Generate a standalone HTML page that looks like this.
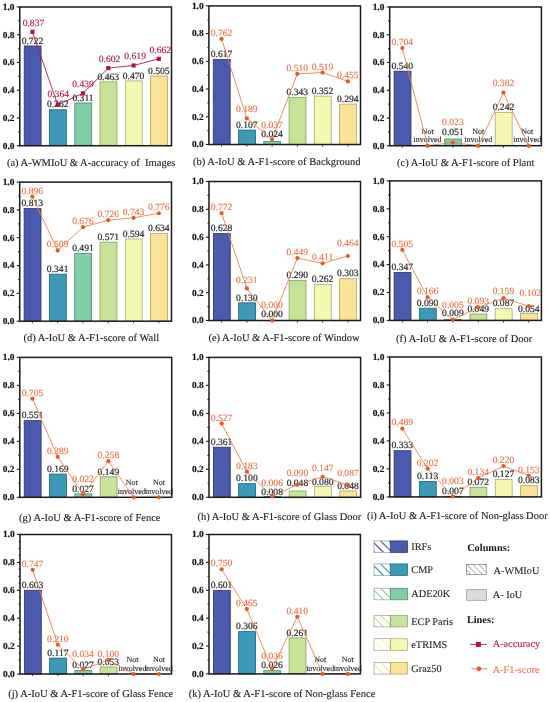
<!DOCTYPE html>
<html><head><meta charset="utf-8"><style>
html,body{margin:0;padding:0;background:#fff;}
svg{display:block;filter:blur(0.3px);}
text{font-family:"Liberation Serif",serif;text-rendering:geometricPrecision;}
.tk{font-size:9.4px;font-weight:bold;text-anchor:end;fill:#111;stroke:#111;stroke-width:0.15px;}
.vl{font-size:9.6px;text-anchor:middle;fill:#262626;stroke:#262626;stroke-width:0.2px;}
.la{font-size:9.6px;text-anchor:middle;fill:#b3124e;stroke:#b3124e;stroke-width:0.15px;}
.lf{font-size:9.6px;text-anchor:middle;fill:#e8734a;stroke:#e8734a;stroke-width:0.15px;}
.ni{font-size:8px;text-anchor:middle;fill:#262626;stroke:#262626;stroke-width:0.12px;}
.cap{font-size:10.5px;fill:#1a1a1a;stroke:#1a1a1a;stroke-width:0.12px;white-space:pre;}
.lg{font-size:10.3px;fill:#1a1a1a;stroke:#1a1a1a;stroke-width:0.1px;white-space:pre;}
.lgb{font-size:10.3px;font-weight:bold;fill:#111;}
</style></head>
<body><svg width="550" height="702" viewBox="0 0 550 702" xml:space="preserve">
<rect width="550" height="702" fill="#fff"/>
<rect x="24.19" y="45.96" width="16.90" height="99.74" fill="#4a5aac" stroke="#2a3470" stroke-width="0.8"/>
<rect x="49.47" y="109.76" width="16.90" height="35.94" fill="#3a9ab8" stroke="#1d5f78" stroke-width="0.8"/>
<rect x="74.76" y="102.96" width="16.90" height="42.74" fill="#80cea6" stroke="#4a8a6a" stroke-width="0.8"/>
<rect x="100.04" y="81.88" width="16.90" height="63.82" fill="#c6e398" stroke="#869e62" stroke-width="0.8"/>
<rect x="125.32" y="80.91" width="16.90" height="64.79" fill="#f4f8b0" stroke="#a8a87a" stroke-width="0.8"/>
<rect x="150.61" y="76.06" width="16.90" height="69.64" fill="#fbe297" stroke="#b8a060" stroke-width="0.8"/>
<text x="32.44" y="43.66" class="vl">0.722</text>
<text x="57.72" y="107.46" class="vl">0.262</text>
<text x="83.01" y="100.66" class="vl">0.311</text>
<text x="108.29" y="79.58" class="vl">0.463</text>
<text x="133.57" y="78.61" class="vl">0.470</text>
<text x="158.86" y="73.76" class="vl">0.505</text>
<text x="33.44" y="25.85" class="la">0.837</text>
<text x="58.22" y="96.50" class="la">0.364</text>
<text x="83.01" y="87.26" class="la">0.439</text>
<text x="109.49" y="62.11" class="la">0.602</text>
<text x="135.17" y="59.49" class="la">0.619</text>
<text x="160.36" y="52.85" class="la">0.662</text>
<polyline points="32.44,31.85 57.72,104.83 83.01,93.26 108.29,68.11 133.57,65.49 158.86,58.85" fill="none" stroke="#b3124e" stroke-width="0.9"/>
<rect x="19.80" y="7.00" width="151.70" height="138.70" fill="none" stroke="#1a1a1a" stroke-width="1.5"/>
<line x1="16.80" y1="145.70" x2="19.80" y2="145.70" stroke="#1a1a1a" stroke-width="1.1"/>
<text x="14.50" y="148.50" class="tk">0.0</text>
<line x1="18.30" y1="131.83" x2="19.80" y2="131.83" stroke="#1a1a1a" stroke-width="1.1"/>
<line x1="16.80" y1="117.96" x2="19.80" y2="117.96" stroke="#1a1a1a" stroke-width="1.1"/>
<text x="14.50" y="120.76" class="tk">0.2</text>
<line x1="18.30" y1="104.09" x2="19.80" y2="104.09" stroke="#1a1a1a" stroke-width="1.1"/>
<line x1="16.80" y1="90.22" x2="19.80" y2="90.22" stroke="#1a1a1a" stroke-width="1.1"/>
<text x="14.50" y="93.02" class="tk">0.4</text>
<line x1="18.30" y1="76.35" x2="19.80" y2="76.35" stroke="#1a1a1a" stroke-width="1.1"/>
<line x1="16.80" y1="62.48" x2="19.80" y2="62.48" stroke="#1a1a1a" stroke-width="1.1"/>
<text x="14.50" y="65.28" class="tk">0.6</text>
<line x1="18.30" y1="48.61" x2="19.80" y2="48.61" stroke="#1a1a1a" stroke-width="1.1"/>
<line x1="16.80" y1="34.74" x2="19.80" y2="34.74" stroke="#1a1a1a" stroke-width="1.1"/>
<text x="14.50" y="37.54" class="tk">0.8</text>
<line x1="18.30" y1="20.87" x2="19.80" y2="20.87" stroke="#1a1a1a" stroke-width="1.1"/>
<line x1="16.80" y1="7.00" x2="19.80" y2="7.00" stroke="#1a1a1a" stroke-width="1.1"/>
<text x="14.50" y="9.80" class="tk">1.0</text>
<rect x="30.34" y="29.75" width="4.2" height="4.2" fill="#b3124e"/>
<rect x="55.62" y="102.73" width="4.2" height="4.2" fill="#b3124e"/>
<rect x="80.91" y="91.16" width="4.2" height="4.2" fill="#b3124e"/>
<rect x="106.19" y="66.01" width="4.2" height="4.2" fill="#b3124e"/>
<rect x="131.47" y="63.39" width="4.2" height="4.2" fill="#b3124e"/>
<rect x="156.76" y="56.75" width="4.2" height="4.2" fill="#b3124e"/>
<text x="6.90" y="165.70" class="cap">(a) A-WMIoU &amp; A-accuracy of  Images</text>
<rect x="213.28" y="59.38" width="16.90" height="85.12" fill="#4a5aac" stroke="#2a3470" stroke-width="0.8"/>
<rect x="238.55" y="130.07" width="16.90" height="14.43" fill="#3a9ab8" stroke="#1d5f78" stroke-width="0.8"/>
<rect x="263.82" y="141.57" width="16.90" height="2.93" fill="#80cea6" stroke="#4a8a6a" stroke-width="0.8"/>
<rect x="289.08" y="97.36" width="16.90" height="47.14" fill="#c6e398" stroke="#869e62" stroke-width="0.8"/>
<rect x="314.35" y="96.11" width="16.90" height="48.39" fill="#f4f8b0" stroke="#a8a87a" stroke-width="0.8"/>
<rect x="339.62" y="104.15" width="16.90" height="40.35" fill="#fbe297" stroke="#b8a060" stroke-width="0.8"/>
<text x="221.53" y="57.08" class="vl">0.617</text>
<text x="246.80" y="127.77" class="vl">0.107</text>
<text x="272.07" y="136.50" class="vl">0.024</text>
<text x="297.33" y="95.06" class="vl">0.343</text>
<text x="322.60" y="93.81" class="vl">0.352</text>
<text x="347.87" y="101.85" class="vl">0.294</text>
<text x="221.53" y="35.89" class="lf">0.762</text>
<text x="246.80" y="111.70" class="lf">0.189</text>
<text x="272.07" y="128.30" class="lf">0.037</text>
<text x="297.33" y="70.81" class="lf">0.510</text>
<text x="322.60" y="69.57" class="lf">0.519</text>
<text x="347.87" y="78.44" class="lf">0.455</text>
<polyline points="221.53,38.89 246.80,118.30 272.07,139.37 297.33,73.81 322.60,72.57 347.87,81.44" fill="none" stroke="#e8824f" stroke-width="0.9"/>
<rect x="208.90" y="5.90" width="151.60" height="138.60" fill="none" stroke="#1a1a1a" stroke-width="1.5"/>
<line x1="205.90" y1="144.50" x2="208.90" y2="144.50" stroke="#1a1a1a" stroke-width="1.1"/>
<text x="203.60" y="147.30" class="tk">0.0</text>
<line x1="207.40" y1="130.64" x2="208.90" y2="130.64" stroke="#1a1a1a" stroke-width="1.1"/>
<line x1="205.90" y1="116.78" x2="208.90" y2="116.78" stroke="#1a1a1a" stroke-width="1.1"/>
<text x="203.60" y="119.58" class="tk">0.2</text>
<line x1="207.40" y1="102.92" x2="208.90" y2="102.92" stroke="#1a1a1a" stroke-width="1.1"/>
<line x1="205.90" y1="89.06" x2="208.90" y2="89.06" stroke="#1a1a1a" stroke-width="1.1"/>
<text x="203.60" y="91.86" class="tk">0.4</text>
<line x1="207.40" y1="75.20" x2="208.90" y2="75.20" stroke="#1a1a1a" stroke-width="1.1"/>
<line x1="205.90" y1="61.34" x2="208.90" y2="61.34" stroke="#1a1a1a" stroke-width="1.1"/>
<text x="203.60" y="64.14" class="tk">0.6</text>
<line x1="207.40" y1="47.48" x2="208.90" y2="47.48" stroke="#1a1a1a" stroke-width="1.1"/>
<line x1="205.90" y1="33.62" x2="208.90" y2="33.62" stroke="#1a1a1a" stroke-width="1.1"/>
<text x="203.60" y="36.42" class="tk">0.8</text>
<line x1="207.40" y1="19.76" x2="208.90" y2="19.76" stroke="#1a1a1a" stroke-width="1.1"/>
<line x1="205.90" y1="5.90" x2="208.90" y2="5.90" stroke="#1a1a1a" stroke-width="1.1"/>
<text x="203.60" y="8.70" class="tk">1.0</text>
<line x1="221.53" y1="144.50" x2="221.53" y2="146.70" stroke="#1a1a1a" stroke-width="0.8"/>
<line x1="246.80" y1="144.50" x2="246.80" y2="146.70" stroke="#1a1a1a" stroke-width="0.8"/>
<line x1="272.07" y1="144.50" x2="272.07" y2="146.70" stroke="#1a1a1a" stroke-width="0.8"/>
<line x1="297.33" y1="144.50" x2="297.33" y2="146.70" stroke="#1a1a1a" stroke-width="0.8"/>
<line x1="322.60" y1="144.50" x2="322.60" y2="146.70" stroke="#1a1a1a" stroke-width="0.8"/>
<line x1="347.87" y1="144.50" x2="347.87" y2="146.70" stroke="#1a1a1a" stroke-width="0.8"/>
<line x1="234.17" y1="144.50" x2="234.17" y2="145.90" stroke="#555" stroke-width="0.6"/>
<line x1="259.43" y1="144.50" x2="259.43" y2="145.90" stroke="#555" stroke-width="0.6"/>
<line x1="284.70" y1="144.50" x2="284.70" y2="145.90" stroke="#555" stroke-width="0.6"/>
<line x1="309.97" y1="144.50" x2="309.97" y2="145.90" stroke="#555" stroke-width="0.6"/>
<line x1="335.23" y1="144.50" x2="335.23" y2="145.90" stroke="#555" stroke-width="0.6"/>
<circle cx="221.53" cy="38.89" r="2.1" fill="#e05c24"/>
<circle cx="246.80" cy="118.30" r="2.1" fill="#e05c24"/>
<circle cx="272.07" cy="139.37" r="2.1" fill="#e05c24"/>
<circle cx="297.33" cy="73.81" r="2.1" fill="#e05c24"/>
<circle cx="322.60" cy="72.57" r="2.1" fill="#e05c24"/>
<circle cx="347.87" cy="81.44" r="2.1" fill="#e05c24"/>
<text x="192.90" y="165.00" class="cap">(b) A-IoU &amp; A-F1-score of Background</text>
<rect x="394.09" y="71.20" width="16.90" height="74.50" fill="#4a5aac" stroke="#2a3470" stroke-width="0.8"/>
<rect x="444.66" y="139.03" width="16.90" height="6.67" fill="#80cea6" stroke="#4a8a6a" stroke-width="0.8"/>
<rect x="495.22" y="112.53" width="16.90" height="33.17" fill="#f4f8b0" stroke="#a8a87a" stroke-width="0.8"/>
<text x="402.34" y="68.90" class="vl">0.540</text>
<text x="427.62" y="133.50" class="ni">Not</text>
<text x="427.62" y="142.30" class="ni">involved</text>
<text x="452.91" y="134.80" class="vl">0.051</text>
<text x="478.19" y="133.50" class="ni">Not</text>
<text x="478.19" y="142.30" class="ni">involved</text>
<text x="503.47" y="110.23" class="vl">0.242</text>
<text x="527.26" y="133.50" class="ni">Not</text>
<text x="527.26" y="142.30" class="ni">involved</text>
<text x="402.34" y="45.06" class="lf">0.704</text>
<text x="452.91" y="125.00" class="lf">0.023</text>
<text x="503.47" y="86.30" class="lf">0.382</text>
<polyline points="402.34,48.06 427.62,145.70 452.91,142.51 478.19,145.70 503.47,92.72 528.76,145.70" fill="none" stroke="#e8824f" stroke-width="0.9"/>
<rect x="389.70" y="7.00" width="151.70" height="138.70" fill="none" stroke="#1a1a1a" stroke-width="1.5"/>
<line x1="386.70" y1="145.70" x2="389.70" y2="145.70" stroke="#1a1a1a" stroke-width="1.1"/>
<text x="384.40" y="148.50" class="tk">0.0</text>
<line x1="388.20" y1="131.83" x2="389.70" y2="131.83" stroke="#1a1a1a" stroke-width="1.1"/>
<line x1="386.70" y1="117.96" x2="389.70" y2="117.96" stroke="#1a1a1a" stroke-width="1.1"/>
<text x="384.40" y="120.76" class="tk">0.2</text>
<line x1="388.20" y1="104.09" x2="389.70" y2="104.09" stroke="#1a1a1a" stroke-width="1.1"/>
<line x1="386.70" y1="90.22" x2="389.70" y2="90.22" stroke="#1a1a1a" stroke-width="1.1"/>
<text x="384.40" y="93.02" class="tk">0.4</text>
<line x1="388.20" y1="76.35" x2="389.70" y2="76.35" stroke="#1a1a1a" stroke-width="1.1"/>
<line x1="386.70" y1="62.48" x2="389.70" y2="62.48" stroke="#1a1a1a" stroke-width="1.1"/>
<text x="384.40" y="65.28" class="tk">0.6</text>
<line x1="388.20" y1="48.61" x2="389.70" y2="48.61" stroke="#1a1a1a" stroke-width="1.1"/>
<line x1="386.70" y1="34.74" x2="389.70" y2="34.74" stroke="#1a1a1a" stroke-width="1.1"/>
<text x="384.40" y="37.54" class="tk">0.8</text>
<line x1="388.20" y1="20.87" x2="389.70" y2="20.87" stroke="#1a1a1a" stroke-width="1.1"/>
<line x1="386.70" y1="7.00" x2="389.70" y2="7.00" stroke="#1a1a1a" stroke-width="1.1"/>
<text x="384.40" y="9.80" class="tk">1.0</text>
<line x1="402.34" y1="145.70" x2="402.34" y2="147.90" stroke="#1a1a1a" stroke-width="0.8"/>
<line x1="427.62" y1="145.70" x2="427.62" y2="147.90" stroke="#1a1a1a" stroke-width="0.8"/>
<line x1="452.91" y1="145.70" x2="452.91" y2="147.90" stroke="#1a1a1a" stroke-width="0.8"/>
<line x1="478.19" y1="145.70" x2="478.19" y2="147.90" stroke="#1a1a1a" stroke-width="0.8"/>
<line x1="503.47" y1="145.70" x2="503.47" y2="147.90" stroke="#1a1a1a" stroke-width="0.8"/>
<line x1="528.76" y1="145.70" x2="528.76" y2="147.90" stroke="#1a1a1a" stroke-width="0.8"/>
<line x1="414.98" y1="145.70" x2="414.98" y2="147.10" stroke="#555" stroke-width="0.6"/>
<line x1="440.27" y1="145.70" x2="440.27" y2="147.10" stroke="#555" stroke-width="0.6"/>
<line x1="465.55" y1="145.70" x2="465.55" y2="147.10" stroke="#555" stroke-width="0.6"/>
<line x1="490.83" y1="145.70" x2="490.83" y2="147.10" stroke="#555" stroke-width="0.6"/>
<line x1="516.12" y1="145.70" x2="516.12" y2="147.10" stroke="#555" stroke-width="0.6"/>
<circle cx="402.34" cy="48.06" r="2.1" fill="#e05c24"/>
<circle cx="427.62" cy="145.70" r="2.1" fill="#e05c24"/>
<circle cx="452.91" cy="142.51" r="2.1" fill="#e05c24"/>
<circle cx="478.19" cy="145.70" r="2.1" fill="#e05c24"/>
<circle cx="503.47" cy="92.72" r="2.1" fill="#e05c24"/>
<circle cx="528.76" cy="145.70" r="2.1" fill="#e05c24"/>
<text x="397.10" y="166.40" class="cap">(c) A-IoU &amp; A-F1-score of Plant</text>
<rect x="24.10" y="208.51" width="16.90" height="112.69" fill="#4a5aac" stroke="#2a3470" stroke-width="0.8"/>
<rect x="49.40" y="274.17" width="16.90" height="47.03" fill="#3a9ab8" stroke="#1d5f78" stroke-width="0.8"/>
<rect x="74.70" y="253.30" width="16.90" height="67.90" fill="#80cea6" stroke="#4a8a6a" stroke-width="0.8"/>
<rect x="100.00" y="242.17" width="16.90" height="79.03" fill="#c6e398" stroke="#869e62" stroke-width="0.8"/>
<rect x="125.30" y="238.97" width="16.90" height="82.23" fill="#f4f8b0" stroke="#a8a87a" stroke-width="0.8"/>
<rect x="150.60" y="233.41" width="16.90" height="87.79" fill="#fbe297" stroke="#b8a060" stroke-width="0.8"/>
<text x="32.35" y="206.21" class="vl">0.813</text>
<text x="57.65" y="271.87" class="vl">0.341</text>
<text x="82.95" y="251.00" class="vl">0.491</text>
<text x="108.25" y="239.87" class="vl">0.571</text>
<text x="133.55" y="236.67" class="vl">0.594</text>
<text x="158.85" y="231.11" class="vl">0.634</text>
<text x="32.35" y="193.57" class="lf">0.896</text>
<text x="57.65" y="247.40" class="lf">0.509</text>
<text x="82.95" y="224.17" class="lf">0.676</text>
<text x="108.25" y="217.21" class="lf">0.726</text>
<text x="133.55" y="214.85" class="lf">0.743</text>
<text x="158.85" y="210.26" class="lf">0.776</text>
<polyline points="32.35,196.57 57.65,250.40 82.95,227.17 108.25,220.21 133.55,217.85 158.85,213.26" fill="none" stroke="#e8824f" stroke-width="0.9"/>
<rect x="19.70" y="182.10" width="151.80" height="139.10" fill="none" stroke="#1a1a1a" stroke-width="1.5"/>
<line x1="16.70" y1="321.20" x2="19.70" y2="321.20" stroke="#1a1a1a" stroke-width="1.1"/>
<text x="14.40" y="324.00" class="tk">0.0</text>
<line x1="18.20" y1="307.29" x2="19.70" y2="307.29" stroke="#1a1a1a" stroke-width="1.1"/>
<line x1="16.70" y1="293.38" x2="19.70" y2="293.38" stroke="#1a1a1a" stroke-width="1.1"/>
<text x="14.40" y="296.18" class="tk">0.2</text>
<line x1="18.20" y1="279.47" x2="19.70" y2="279.47" stroke="#1a1a1a" stroke-width="1.1"/>
<line x1="16.70" y1="265.56" x2="19.70" y2="265.56" stroke="#1a1a1a" stroke-width="1.1"/>
<text x="14.40" y="268.36" class="tk">0.4</text>
<line x1="18.20" y1="251.65" x2="19.70" y2="251.65" stroke="#1a1a1a" stroke-width="1.1"/>
<line x1="16.70" y1="237.74" x2="19.70" y2="237.74" stroke="#1a1a1a" stroke-width="1.1"/>
<text x="14.40" y="240.54" class="tk">0.6</text>
<line x1="18.20" y1="223.83" x2="19.70" y2="223.83" stroke="#1a1a1a" stroke-width="1.1"/>
<line x1="16.70" y1="209.92" x2="19.70" y2="209.92" stroke="#1a1a1a" stroke-width="1.1"/>
<text x="14.40" y="212.72" class="tk">0.8</text>
<line x1="18.20" y1="196.01" x2="19.70" y2="196.01" stroke="#1a1a1a" stroke-width="1.1"/>
<line x1="16.70" y1="182.10" x2="19.70" y2="182.10" stroke="#1a1a1a" stroke-width="1.1"/>
<text x="14.40" y="184.90" class="tk">1.0</text>
<line x1="32.35" y1="321.20" x2="32.35" y2="323.40" stroke="#1a1a1a" stroke-width="0.8"/>
<line x1="57.65" y1="321.20" x2="57.65" y2="323.40" stroke="#1a1a1a" stroke-width="0.8"/>
<line x1="82.95" y1="321.20" x2="82.95" y2="323.40" stroke="#1a1a1a" stroke-width="0.8"/>
<line x1="108.25" y1="321.20" x2="108.25" y2="323.40" stroke="#1a1a1a" stroke-width="0.8"/>
<line x1="133.55" y1="321.20" x2="133.55" y2="323.40" stroke="#1a1a1a" stroke-width="0.8"/>
<line x1="158.85" y1="321.20" x2="158.85" y2="323.40" stroke="#1a1a1a" stroke-width="0.8"/>
<line x1="45.00" y1="321.20" x2="45.00" y2="322.60" stroke="#555" stroke-width="0.6"/>
<line x1="70.30" y1="321.20" x2="70.30" y2="322.60" stroke="#555" stroke-width="0.6"/>
<line x1="95.60" y1="321.20" x2="95.60" y2="322.60" stroke="#555" stroke-width="0.6"/>
<line x1="120.90" y1="321.20" x2="120.90" y2="322.60" stroke="#555" stroke-width="0.6"/>
<line x1="146.20" y1="321.20" x2="146.20" y2="322.60" stroke="#555" stroke-width="0.6"/>
<circle cx="32.35" cy="196.57" r="2.1" fill="#e05c24"/>
<circle cx="57.65" cy="250.40" r="2.1" fill="#e05c24"/>
<circle cx="82.95" cy="227.17" r="2.1" fill="#e05c24"/>
<circle cx="108.25" cy="220.21" r="2.1" fill="#e05c24"/>
<circle cx="133.55" cy="217.85" r="2.1" fill="#e05c24"/>
<circle cx="158.85" cy="213.26" r="2.1" fill="#e05c24"/>
<text x="23.40" y="340.80" class="cap">(d) A-IoU &amp; A-F1-score of Wall</text>
<rect x="213.38" y="233.61" width="16.90" height="86.89" fill="#4a5aac" stroke="#2a3470" stroke-width="0.8"/>
<rect x="238.62" y="302.83" width="16.90" height="17.67" fill="#3a9ab8" stroke="#1d5f78" stroke-width="0.8"/>
<rect x="289.12" y="280.59" width="16.90" height="39.91" fill="#c6e398" stroke="#869e62" stroke-width="0.8"/>
<rect x="314.37" y="284.48" width="16.90" height="36.02" fill="#f4f8b0" stroke="#a8a87a" stroke-width="0.8"/>
<rect x="339.62" y="278.78" width="16.90" height="41.72" fill="#fbe297" stroke="#b8a060" stroke-width="0.8"/>
<text x="221.62" y="231.31" class="vl">0.628</text>
<text x="246.88" y="300.53" class="vl">0.130</text>
<text x="272.12" y="317.00" class="vl">0.000</text>
<text x="297.38" y="278.29" class="vl">0.290</text>
<text x="322.62" y="282.18" class="vl">0.262</text>
<text x="347.88" y="276.48" class="vl">0.303</text>
<text x="221.62" y="210.19" class="lf">0.772</text>
<text x="246.88" y="283.00" class="lf">0.231</text>
<text x="272.12" y="308.30" class="lf">0.000</text>
<text x="297.38" y="255.09" class="lf">0.449</text>
<text x="322.62" y="260.37" class="lf">0.411</text>
<text x="347.88" y="246.30" class="lf">0.464</text>
<polyline points="221.62,213.19 246.88,288.39 272.12,320.50 297.38,258.09 322.62,263.37 347.88,256.00" fill="none" stroke="#e8824f" stroke-width="0.9"/>
<rect x="209.00" y="181.50" width="151.50" height="139.00" fill="none" stroke="#1a1a1a" stroke-width="1.5"/>
<line x1="206.00" y1="320.50" x2="209.00" y2="320.50" stroke="#1a1a1a" stroke-width="1.1"/>
<text x="203.70" y="323.30" class="tk">0.0</text>
<line x1="207.50" y1="306.60" x2="209.00" y2="306.60" stroke="#1a1a1a" stroke-width="1.1"/>
<line x1="206.00" y1="292.70" x2="209.00" y2="292.70" stroke="#1a1a1a" stroke-width="1.1"/>
<text x="203.70" y="295.50" class="tk">0.2</text>
<line x1="207.50" y1="278.80" x2="209.00" y2="278.80" stroke="#1a1a1a" stroke-width="1.1"/>
<line x1="206.00" y1="264.90" x2="209.00" y2="264.90" stroke="#1a1a1a" stroke-width="1.1"/>
<text x="203.70" y="267.70" class="tk">0.4</text>
<line x1="207.50" y1="251.00" x2="209.00" y2="251.00" stroke="#1a1a1a" stroke-width="1.1"/>
<line x1="206.00" y1="237.10" x2="209.00" y2="237.10" stroke="#1a1a1a" stroke-width="1.1"/>
<text x="203.70" y="239.90" class="tk">0.6</text>
<line x1="207.50" y1="223.20" x2="209.00" y2="223.20" stroke="#1a1a1a" stroke-width="1.1"/>
<line x1="206.00" y1="209.30" x2="209.00" y2="209.30" stroke="#1a1a1a" stroke-width="1.1"/>
<text x="203.70" y="212.10" class="tk">0.8</text>
<line x1="207.50" y1="195.40" x2="209.00" y2="195.40" stroke="#1a1a1a" stroke-width="1.1"/>
<line x1="206.00" y1="181.50" x2="209.00" y2="181.50" stroke="#1a1a1a" stroke-width="1.1"/>
<text x="203.70" y="184.30" class="tk">1.0</text>
<line x1="221.62" y1="320.50" x2="221.62" y2="322.70" stroke="#1a1a1a" stroke-width="0.8"/>
<line x1="246.88" y1="320.50" x2="246.88" y2="322.70" stroke="#1a1a1a" stroke-width="0.8"/>
<line x1="272.12" y1="320.50" x2="272.12" y2="322.70" stroke="#1a1a1a" stroke-width="0.8"/>
<line x1="297.38" y1="320.50" x2="297.38" y2="322.70" stroke="#1a1a1a" stroke-width="0.8"/>
<line x1="322.62" y1="320.50" x2="322.62" y2="322.70" stroke="#1a1a1a" stroke-width="0.8"/>
<line x1="347.88" y1="320.50" x2="347.88" y2="322.70" stroke="#1a1a1a" stroke-width="0.8"/>
<line x1="234.25" y1="320.50" x2="234.25" y2="321.90" stroke="#555" stroke-width="0.6"/>
<line x1="259.50" y1="320.50" x2="259.50" y2="321.90" stroke="#555" stroke-width="0.6"/>
<line x1="284.75" y1="320.50" x2="284.75" y2="321.90" stroke="#555" stroke-width="0.6"/>
<line x1="310.00" y1="320.50" x2="310.00" y2="321.90" stroke="#555" stroke-width="0.6"/>
<line x1="335.25" y1="320.50" x2="335.25" y2="321.90" stroke="#555" stroke-width="0.6"/>
<circle cx="221.62" cy="213.19" r="2.1" fill="#e05c24"/>
<circle cx="246.88" cy="288.39" r="2.1" fill="#e05c24"/>
<circle cx="272.12" cy="320.50" r="2.1" fill="#e05c24"/>
<circle cx="297.38" cy="258.09" r="2.1" fill="#e05c24"/>
<circle cx="322.62" cy="263.37" r="2.1" fill="#e05c24"/>
<circle cx="347.88" cy="256.00" r="2.1" fill="#e05c24"/>
<text x="208.40" y="341.40" class="cap">(e) A-IoU &amp; A-F1-score of Window</text>
<rect x="394.09" y="272.39" width="16.90" height="48.01" fill="#4a5aac" stroke="#2a3470" stroke-width="0.8"/>
<rect x="419.37" y="308.24" width="16.90" height="12.16" fill="#3a9ab8" stroke="#1d5f78" stroke-width="0.8"/>
<rect x="444.66" y="319.54" width="16.90" height="0.86" fill="#80cea6" stroke="#4a8a6a" stroke-width="0.8"/>
<rect x="469.94" y="313.96" width="16.90" height="6.44" fill="#c6e398" stroke="#869e62" stroke-width="0.8"/>
<rect x="495.22" y="308.66" width="16.90" height="11.74" fill="#f4f8b0" stroke="#a8a87a" stroke-width="0.8"/>
<rect x="520.51" y="313.27" width="16.90" height="7.13" fill="#fbe297" stroke="#b8a060" stroke-width="0.8"/>
<text x="402.34" y="270.09" class="vl">0.347</text>
<text x="427.62" y="305.94" class="vl">0.090</text>
<text x="452.91" y="315.80" class="vl">0.009</text>
<text x="478.19" y="311.66" class="vl">0.049</text>
<text x="503.47" y="306.36" class="vl">0.087</text>
<text x="528.76" y="311.60" class="vl">0.054</text>
<text x="402.34" y="246.95" class="lf">0.505</text>
<text x="427.62" y="294.00" class="lf">0.166</text>
<text x="452.91" y="308.00" class="lf">0.005</text>
<text x="478.19" y="304.43" class="lf">0.093</text>
<text x="503.47" y="294.30" class="lf">0.159</text>
<text x="530.26" y="296.30" class="lf">0.102</text>
<polyline points="402.34,249.95 427.62,297.24 452.91,319.70 478.19,307.43 503.47,298.22 528.76,306.17" fill="none" stroke="#e8824f" stroke-width="0.9"/>
<rect x="389.70" y="180.90" width="151.70" height="139.50" fill="none" stroke="#1a1a1a" stroke-width="1.5"/>
<line x1="386.70" y1="320.40" x2="389.70" y2="320.40" stroke="#1a1a1a" stroke-width="1.1"/>
<text x="384.40" y="323.20" class="tk">0.0</text>
<line x1="388.20" y1="306.45" x2="389.70" y2="306.45" stroke="#1a1a1a" stroke-width="1.1"/>
<line x1="386.70" y1="292.50" x2="389.70" y2="292.50" stroke="#1a1a1a" stroke-width="1.1"/>
<text x="384.40" y="295.30" class="tk">0.2</text>
<line x1="388.20" y1="278.55" x2="389.70" y2="278.55" stroke="#1a1a1a" stroke-width="1.1"/>
<line x1="386.70" y1="264.60" x2="389.70" y2="264.60" stroke="#1a1a1a" stroke-width="1.1"/>
<text x="384.40" y="267.40" class="tk">0.4</text>
<line x1="388.20" y1="250.65" x2="389.70" y2="250.65" stroke="#1a1a1a" stroke-width="1.1"/>
<line x1="386.70" y1="236.70" x2="389.70" y2="236.70" stroke="#1a1a1a" stroke-width="1.1"/>
<text x="384.40" y="239.50" class="tk">0.6</text>
<line x1="388.20" y1="222.75" x2="389.70" y2="222.75" stroke="#1a1a1a" stroke-width="1.1"/>
<line x1="386.70" y1="208.80" x2="389.70" y2="208.80" stroke="#1a1a1a" stroke-width="1.1"/>
<text x="384.40" y="211.60" class="tk">0.8</text>
<line x1="388.20" y1="194.85" x2="389.70" y2="194.85" stroke="#1a1a1a" stroke-width="1.1"/>
<line x1="386.70" y1="180.90" x2="389.70" y2="180.90" stroke="#1a1a1a" stroke-width="1.1"/>
<text x="384.40" y="183.70" class="tk">1.0</text>
<line x1="402.34" y1="320.40" x2="402.34" y2="322.60" stroke="#1a1a1a" stroke-width="0.8"/>
<line x1="427.62" y1="320.40" x2="427.62" y2="322.60" stroke="#1a1a1a" stroke-width="0.8"/>
<line x1="452.91" y1="320.40" x2="452.91" y2="322.60" stroke="#1a1a1a" stroke-width="0.8"/>
<line x1="478.19" y1="320.40" x2="478.19" y2="322.60" stroke="#1a1a1a" stroke-width="0.8"/>
<line x1="503.47" y1="320.40" x2="503.47" y2="322.60" stroke="#1a1a1a" stroke-width="0.8"/>
<line x1="528.76" y1="320.40" x2="528.76" y2="322.60" stroke="#1a1a1a" stroke-width="0.8"/>
<line x1="414.98" y1="320.40" x2="414.98" y2="321.80" stroke="#555" stroke-width="0.6"/>
<line x1="440.27" y1="320.40" x2="440.27" y2="321.80" stroke="#555" stroke-width="0.6"/>
<line x1="465.55" y1="320.40" x2="465.55" y2="321.80" stroke="#555" stroke-width="0.6"/>
<line x1="490.83" y1="320.40" x2="490.83" y2="321.80" stroke="#555" stroke-width="0.6"/>
<line x1="516.12" y1="320.40" x2="516.12" y2="321.80" stroke="#555" stroke-width="0.6"/>
<circle cx="402.34" cy="249.95" r="2.1" fill="#e05c24"/>
<circle cx="427.62" cy="297.24" r="2.1" fill="#e05c24"/>
<circle cx="452.91" cy="319.70" r="2.1" fill="#e05c24"/>
<circle cx="478.19" cy="307.43" r="2.1" fill="#e05c24"/>
<circle cx="503.47" cy="298.22" r="2.1" fill="#e05c24"/>
<circle cx="528.76" cy="306.17" r="2.1" fill="#e05c24"/>
<text x="396.10" y="341.60" class="cap">(f) A-IoU &amp; A-F1-score of Door</text>
<rect x="24.21" y="420.62" width="16.90" height="76.68" fill="#4a5aac" stroke="#2a3470" stroke-width="0.8"/>
<rect x="49.52" y="474.06" width="16.90" height="23.24" fill="#3a9ab8" stroke="#1d5f78" stroke-width="0.8"/>
<rect x="74.84" y="493.92" width="16.90" height="3.38" fill="#80cea6" stroke="#4a8a6a" stroke-width="0.8"/>
<rect x="100.16" y="476.85" width="16.90" height="20.45" fill="#c6e398" stroke="#869e62" stroke-width="0.8"/>
<text x="32.46" y="418.32" class="vl">0.551</text>
<text x="57.77" y="471.76" class="vl">0.169</text>
<text x="83.09" y="491.62" class="vl">0.027</text>
<text x="108.41" y="474.55" class="vl">0.149</text>
<text x="131.72" y="485.10" class="ni">Not</text>
<text x="131.72" y="493.90" class="ni">involved</text>
<text x="159.04" y="485.10" class="ni">Not</text>
<text x="159.04" y="493.90" class="ni">involved</text>
<text x="32.46" y="395.67" class="lf">0.705</text>
<text x="57.77" y="453.87" class="lf">0.289</text>
<text x="83.09" y="481.70" class="lf">0.022</text>
<text x="108.41" y="458.21" class="lf">0.258</text>
<polyline points="32.46,398.67 57.77,456.87 83.09,494.22 108.41,461.21 133.72,497.30 159.04,497.30" fill="none" stroke="#e8824f" stroke-width="0.9"/>
<rect x="19.80" y="357.40" width="151.90" height="139.90" fill="none" stroke="#1a1a1a" stroke-width="1.5"/>
<line x1="16.80" y1="497.30" x2="19.80" y2="497.30" stroke="#1a1a1a" stroke-width="1.1"/>
<text x="14.50" y="500.10" class="tk">0.0</text>
<line x1="18.30" y1="483.31" x2="19.80" y2="483.31" stroke="#1a1a1a" stroke-width="1.1"/>
<line x1="16.80" y1="469.32" x2="19.80" y2="469.32" stroke="#1a1a1a" stroke-width="1.1"/>
<text x="14.50" y="472.12" class="tk">0.2</text>
<line x1="18.30" y1="455.33" x2="19.80" y2="455.33" stroke="#1a1a1a" stroke-width="1.1"/>
<line x1="16.80" y1="441.34" x2="19.80" y2="441.34" stroke="#1a1a1a" stroke-width="1.1"/>
<text x="14.50" y="444.14" class="tk">0.4</text>
<line x1="18.30" y1="427.35" x2="19.80" y2="427.35" stroke="#1a1a1a" stroke-width="1.1"/>
<line x1="16.80" y1="413.36" x2="19.80" y2="413.36" stroke="#1a1a1a" stroke-width="1.1"/>
<text x="14.50" y="416.16" class="tk">0.6</text>
<line x1="18.30" y1="399.37" x2="19.80" y2="399.37" stroke="#1a1a1a" stroke-width="1.1"/>
<line x1="16.80" y1="385.38" x2="19.80" y2="385.38" stroke="#1a1a1a" stroke-width="1.1"/>
<text x="14.50" y="388.18" class="tk">0.8</text>
<line x1="18.30" y1="371.39" x2="19.80" y2="371.39" stroke="#1a1a1a" stroke-width="1.1"/>
<line x1="16.80" y1="357.40" x2="19.80" y2="357.40" stroke="#1a1a1a" stroke-width="1.1"/>
<text x="14.50" y="360.20" class="tk">1.0</text>
<circle cx="32.46" cy="398.67" r="2.1" fill="#e05c24"/>
<circle cx="57.77" cy="456.87" r="2.1" fill="#e05c24"/>
<circle cx="83.09" cy="494.22" r="2.1" fill="#e05c24"/>
<circle cx="108.41" cy="461.21" r="2.1" fill="#e05c24"/>
<circle cx="133.72" cy="497.30" r="2.1" fill="#e05c24"/>
<circle cx="159.04" cy="497.30" r="2.1" fill="#e05c24"/>
<text x="19.10" y="520.70" class="cap">(g) A-IoU &amp; A-F1-score of Fence</text>
<rect x="213.38" y="447.20" width="16.90" height="50.10" fill="#4a5aac" stroke="#2a3470" stroke-width="0.8"/>
<rect x="238.65" y="483.71" width="16.90" height="13.59" fill="#3a9ab8" stroke="#1d5f78" stroke-width="0.8"/>
<rect x="263.92" y="496.58" width="16.90" height="0.72" fill="#80cea6" stroke="#4a8a6a" stroke-width="0.8"/>
<rect x="289.18" y="490.98" width="16.90" height="6.32" fill="#c6e398" stroke="#869e62" stroke-width="0.8"/>
<rect x="314.45" y="486.51" width="16.90" height="10.79" fill="#f4f8b0" stroke="#a8a87a" stroke-width="0.8"/>
<rect x="339.72" y="490.98" width="16.90" height="6.32" fill="#fbe297" stroke="#b8a060" stroke-width="0.8"/>
<text x="221.63" y="444.90" class="vl">0.361</text>
<text x="246.90" y="481.41" class="vl">0.100</text>
<text x="272.17" y="494.50" class="vl">0.008</text>
<text x="297.43" y="485.50" class="vl">0.048</text>
<text x="322.70" y="485.00" class="vl">0.080</text>
<text x="347.97" y="489.20" class="vl">0.048</text>
<text x="221.63" y="420.57" class="lf">0.527</text>
<text x="246.90" y="468.50" class="lf">0.183</text>
<text x="272.17" y="485.70" class="lf">0.006</text>
<text x="297.43" y="476.40" class="lf">0.090</text>
<text x="322.70" y="470.50" class="lf">0.147</text>
<text x="347.97" y="476.40" class="lf">0.087</text>
<polyline points="221.63,423.57 246.90,471.70 272.17,496.46 297.43,484.71 322.70,476.73 347.97,485.13" fill="none" stroke="#e8824f" stroke-width="0.9"/>
<rect x="209.00" y="357.40" width="151.60" height="139.90" fill="none" stroke="#1a1a1a" stroke-width="1.5"/>
<line x1="206.00" y1="497.30" x2="209.00" y2="497.30" stroke="#1a1a1a" stroke-width="1.1"/>
<text x="203.70" y="500.10" class="tk">0.0</text>
<line x1="207.50" y1="483.31" x2="209.00" y2="483.31" stroke="#1a1a1a" stroke-width="1.1"/>
<line x1="206.00" y1="469.32" x2="209.00" y2="469.32" stroke="#1a1a1a" stroke-width="1.1"/>
<text x="203.70" y="472.12" class="tk">0.2</text>
<line x1="207.50" y1="455.33" x2="209.00" y2="455.33" stroke="#1a1a1a" stroke-width="1.1"/>
<line x1="206.00" y1="441.34" x2="209.00" y2="441.34" stroke="#1a1a1a" stroke-width="1.1"/>
<text x="203.70" y="444.14" class="tk">0.4</text>
<line x1="207.50" y1="427.35" x2="209.00" y2="427.35" stroke="#1a1a1a" stroke-width="1.1"/>
<line x1="206.00" y1="413.36" x2="209.00" y2="413.36" stroke="#1a1a1a" stroke-width="1.1"/>
<text x="203.70" y="416.16" class="tk">0.6</text>
<line x1="207.50" y1="399.37" x2="209.00" y2="399.37" stroke="#1a1a1a" stroke-width="1.1"/>
<line x1="206.00" y1="385.38" x2="209.00" y2="385.38" stroke="#1a1a1a" stroke-width="1.1"/>
<text x="203.70" y="388.18" class="tk">0.8</text>
<line x1="207.50" y1="371.39" x2="209.00" y2="371.39" stroke="#1a1a1a" stroke-width="1.1"/>
<line x1="206.00" y1="357.40" x2="209.00" y2="357.40" stroke="#1a1a1a" stroke-width="1.1"/>
<text x="203.70" y="360.20" class="tk">1.0</text>
<circle cx="221.63" cy="423.57" r="2.1" fill="#e05c24"/>
<circle cx="246.90" cy="471.70" r="2.1" fill="#e05c24"/>
<circle cx="272.17" cy="496.46" r="2.1" fill="#e05c24"/>
<circle cx="297.43" cy="484.71" r="2.1" fill="#e05c24"/>
<circle cx="322.70" cy="476.73" r="2.1" fill="#e05c24"/>
<circle cx="347.97" cy="485.13" r="2.1" fill="#e05c24"/>
<text x="197.40" y="520.20" class="cap">(h) A-IoU &amp; A-F1-score of Glass Door</text>
<rect x="394.09" y="450.71" width="16.90" height="46.19" fill="#4a5aac" stroke="#2a3470" stroke-width="0.8"/>
<rect x="419.37" y="481.49" width="16.90" height="15.41" fill="#3a9ab8" stroke="#1d5f78" stroke-width="0.8"/>
<rect x="444.66" y="496.32" width="16.90" height="0.58" fill="#80cea6" stroke="#4a8a6a" stroke-width="0.8"/>
<rect x="469.94" y="487.23" width="16.90" height="9.67" fill="#c6e398" stroke="#869e62" stroke-width="0.8"/>
<rect x="495.22" y="479.53" width="16.90" height="17.37" fill="#f4f8b0" stroke="#a8a87a" stroke-width="0.8"/>
<rect x="520.51" y="485.69" width="16.90" height="11.21" fill="#fbe297" stroke="#b8a060" stroke-width="0.8"/>
<text x="402.34" y="448.41" class="vl">0.333</text>
<text x="427.62" y="479.19" class="vl">0.113</text>
<text x="452.91" y="493.80" class="vl">0.007</text>
<text x="478.19" y="484.93" class="vl">0.072</text>
<text x="503.47" y="477.23" class="vl">0.127</text>
<text x="528.76" y="483.39" class="vl">0.083</text>
<text x="402.34" y="425.49" class="lf">0.489</text>
<text x="427.62" y="465.64" class="lf">0.202</text>
<text x="452.91" y="484.10" class="lf">0.003</text>
<text x="478.19" y="475.15" class="lf">0.134</text>
<text x="503.47" y="463.12" class="lf">0.220</text>
<text x="528.76" y="472.50" class="lf">0.153</text>
<polyline points="402.34,428.49 427.62,468.64 452.91,496.48 478.19,478.15 503.47,466.12 528.76,475.50" fill="none" stroke="#e8824f" stroke-width="0.9"/>
<rect x="389.70" y="357.00" width="151.70" height="139.90" fill="none" stroke="#1a1a1a" stroke-width="1.5"/>
<line x1="386.70" y1="496.90" x2="389.70" y2="496.90" stroke="#1a1a1a" stroke-width="1.1"/>
<text x="384.40" y="499.70" class="tk">0.0</text>
<line x1="388.20" y1="482.91" x2="389.70" y2="482.91" stroke="#1a1a1a" stroke-width="1.1"/>
<line x1="386.70" y1="468.92" x2="389.70" y2="468.92" stroke="#1a1a1a" stroke-width="1.1"/>
<text x="384.40" y="471.72" class="tk">0.2</text>
<line x1="388.20" y1="454.93" x2="389.70" y2="454.93" stroke="#1a1a1a" stroke-width="1.1"/>
<line x1="386.70" y1="440.94" x2="389.70" y2="440.94" stroke="#1a1a1a" stroke-width="1.1"/>
<text x="384.40" y="443.74" class="tk">0.4</text>
<line x1="388.20" y1="426.95" x2="389.70" y2="426.95" stroke="#1a1a1a" stroke-width="1.1"/>
<line x1="386.70" y1="412.96" x2="389.70" y2="412.96" stroke="#1a1a1a" stroke-width="1.1"/>
<text x="384.40" y="415.76" class="tk">0.6</text>
<line x1="388.20" y1="398.97" x2="389.70" y2="398.97" stroke="#1a1a1a" stroke-width="1.1"/>
<line x1="386.70" y1="384.98" x2="389.70" y2="384.98" stroke="#1a1a1a" stroke-width="1.1"/>
<text x="384.40" y="387.78" class="tk">0.8</text>
<line x1="388.20" y1="370.99" x2="389.70" y2="370.99" stroke="#1a1a1a" stroke-width="1.1"/>
<line x1="386.70" y1="357.00" x2="389.70" y2="357.00" stroke="#1a1a1a" stroke-width="1.1"/>
<text x="384.40" y="359.80" class="tk">1.0</text>
<circle cx="402.34" cy="428.49" r="2.1" fill="#e05c24"/>
<circle cx="427.62" cy="468.64" r="2.1" fill="#e05c24"/>
<circle cx="452.91" cy="496.48" r="2.1" fill="#e05c24"/>
<circle cx="478.19" cy="478.15" r="2.1" fill="#e05c24"/>
<circle cx="503.47" cy="466.12" r="2.1" fill="#e05c24"/>
<circle cx="528.76" cy="475.50" r="2.1" fill="#e05c24"/>
<text x="366.90" y="518.50" class="cap">(i) A-IoU &amp; A-F1-score of Non-glass Door</text>
<rect x="24.38" y="590.28" width="16.90" height="83.72" fill="#4a5aac" stroke="#2a3470" stroke-width="0.8"/>
<rect x="49.62" y="658.08" width="16.90" height="15.92" fill="#3a9ab8" stroke="#1d5f78" stroke-width="0.8"/>
<rect x="74.88" y="670.63" width="16.90" height="3.37" fill="#80cea6" stroke="#4a8a6a" stroke-width="0.8"/>
<rect x="100.13" y="667.01" width="16.90" height="6.99" fill="#c6e398" stroke="#869e62" stroke-width="0.8"/>
<text x="32.62" y="587.98" class="vl">0.603</text>
<text x="57.88" y="655.78" class="vl">0.117</text>
<text x="83.12" y="668.33" class="vl">0.027</text>
<text x="108.38" y="664.71" class="vl">0.053</text>
<text x="132.43" y="661.80" class="ni">Not</text>
<text x="132.43" y="670.60" class="ni">involved</text>
<text x="158.88" y="661.80" class="ni">Not</text>
<text x="158.88" y="670.60" class="ni">involved</text>
<text x="32.62" y="566.79" class="lf">0.747</text>
<text x="57.88" y="642.00" class="lf">0.210</text>
<text x="83.12" y="657.40" class="lf">0.034</text>
<text x="108.38" y="657.05" class="lf">0.100</text>
<polyline points="32.62,569.79 57.88,644.71 83.12,669.26 108.38,660.05 133.62,674.00 158.88,674.00" fill="none" stroke="#e8824f" stroke-width="0.9"/>
<rect x="20.00" y="534.50" width="151.50" height="139.50" fill="none" stroke="#1a1a1a" stroke-width="1.5"/>
<line x1="17.00" y1="674.00" x2="20.00" y2="674.00" stroke="#1a1a1a" stroke-width="1.1"/>
<text x="14.70" y="676.80" class="tk">0.0</text>
<line x1="18.80" y1="667.02" x2="20.00" y2="667.02" stroke="#1a1a1a" stroke-width="1.1"/>
<line x1="18.50" y1="660.05" x2="20.00" y2="660.05" stroke="#1a1a1a" stroke-width="1.1"/>
<line x1="18.80" y1="653.08" x2="20.00" y2="653.08" stroke="#1a1a1a" stroke-width="1.1"/>
<line x1="17.00" y1="646.10" x2="20.00" y2="646.10" stroke="#1a1a1a" stroke-width="1.1"/>
<text x="14.70" y="648.90" class="tk">0.2</text>
<line x1="18.80" y1="639.12" x2="20.00" y2="639.12" stroke="#1a1a1a" stroke-width="1.1"/>
<line x1="18.50" y1="632.15" x2="20.00" y2="632.15" stroke="#1a1a1a" stroke-width="1.1"/>
<line x1="18.80" y1="625.17" x2="20.00" y2="625.17" stroke="#1a1a1a" stroke-width="1.1"/>
<line x1="17.00" y1="618.20" x2="20.00" y2="618.20" stroke="#1a1a1a" stroke-width="1.1"/>
<text x="14.70" y="621.00" class="tk">0.4</text>
<line x1="18.80" y1="611.23" x2="20.00" y2="611.23" stroke="#1a1a1a" stroke-width="1.1"/>
<line x1="18.50" y1="604.25" x2="20.00" y2="604.25" stroke="#1a1a1a" stroke-width="1.1"/>
<line x1="18.80" y1="597.27" x2="20.00" y2="597.27" stroke="#1a1a1a" stroke-width="1.1"/>
<line x1="17.00" y1="590.30" x2="20.00" y2="590.30" stroke="#1a1a1a" stroke-width="1.1"/>
<text x="14.70" y="593.10" class="tk">0.6</text>
<line x1="18.80" y1="583.33" x2="20.00" y2="583.33" stroke="#1a1a1a" stroke-width="1.1"/>
<line x1="18.50" y1="576.35" x2="20.00" y2="576.35" stroke="#1a1a1a" stroke-width="1.1"/>
<line x1="18.80" y1="569.38" x2="20.00" y2="569.38" stroke="#1a1a1a" stroke-width="1.1"/>
<line x1="17.00" y1="562.40" x2="20.00" y2="562.40" stroke="#1a1a1a" stroke-width="1.1"/>
<text x="14.70" y="565.20" class="tk">0.8</text>
<line x1="18.80" y1="555.42" x2="20.00" y2="555.42" stroke="#1a1a1a" stroke-width="1.1"/>
<line x1="18.50" y1="548.45" x2="20.00" y2="548.45" stroke="#1a1a1a" stroke-width="1.1"/>
<line x1="18.80" y1="541.48" x2="20.00" y2="541.48" stroke="#1a1a1a" stroke-width="1.1"/>
<line x1="17.00" y1="534.50" x2="20.00" y2="534.50" stroke="#1a1a1a" stroke-width="1.1"/>
<text x="14.70" y="537.30" class="tk">1.0</text>
<line x1="32.62" y1="674.00" x2="32.62" y2="676.20" stroke="#1a1a1a" stroke-width="0.8"/>
<line x1="57.88" y1="674.00" x2="57.88" y2="676.20" stroke="#1a1a1a" stroke-width="0.8"/>
<line x1="83.12" y1="674.00" x2="83.12" y2="676.20" stroke="#1a1a1a" stroke-width="0.8"/>
<line x1="108.38" y1="674.00" x2="108.38" y2="676.20" stroke="#1a1a1a" stroke-width="0.8"/>
<line x1="133.62" y1="674.00" x2="133.62" y2="676.20" stroke="#1a1a1a" stroke-width="0.8"/>
<line x1="158.88" y1="674.00" x2="158.88" y2="676.20" stroke="#1a1a1a" stroke-width="0.8"/>
<line x1="45.25" y1="674.00" x2="45.25" y2="675.40" stroke="#555" stroke-width="0.6"/>
<line x1="70.50" y1="674.00" x2="70.50" y2="675.40" stroke="#555" stroke-width="0.6"/>
<line x1="95.75" y1="674.00" x2="95.75" y2="675.40" stroke="#555" stroke-width="0.6"/>
<line x1="121.00" y1="674.00" x2="121.00" y2="675.40" stroke="#555" stroke-width="0.6"/>
<line x1="146.25" y1="674.00" x2="146.25" y2="675.40" stroke="#555" stroke-width="0.6"/>
<circle cx="32.62" cy="569.79" r="2.1" fill="#e05c24"/>
<circle cx="57.88" cy="644.71" r="2.1" fill="#e05c24"/>
<circle cx="83.12" cy="669.26" r="2.1" fill="#e05c24"/>
<circle cx="108.38" cy="660.05" r="2.1" fill="#e05c24"/>
<circle cx="133.62" cy="674.00" r="2.1" fill="#e05c24"/>
<circle cx="158.88" cy="674.00" r="2.1" fill="#e05c24"/>
<text x="8.20" y="696.60" class="cap">(j) A-IoU &amp; A-F1-score of Glass Fence</text>
<rect x="213.37" y="590.52" width="16.90" height="83.38" fill="#4a5aac" stroke="#2a3470" stroke-width="0.8"/>
<rect x="238.60" y="631.64" width="16.90" height="42.26" fill="#3a9ab8" stroke="#1d5f78" stroke-width="0.8"/>
<rect x="263.83" y="670.68" width="16.90" height="3.22" fill="#80cea6" stroke="#4a8a6a" stroke-width="0.8"/>
<rect x="289.07" y="637.92" width="16.90" height="35.98" fill="#c6e398" stroke="#869e62" stroke-width="0.8"/>
<text x="221.62" y="588.22" class="vl">0.601</text>
<text x="246.85" y="629.34" class="vl">0.306</text>
<text x="272.08" y="668.38" class="vl">0.026</text>
<text x="297.32" y="635.62" class="vl">0.261</text>
<text x="320.15" y="661.70" class="ni">Not</text>
<text x="320.15" y="670.50" class="ni">involved</text>
<text x="347.78" y="661.70" class="ni">Not</text>
<text x="347.78" y="670.50" class="ni">involved</text>
<text x="221.62" y="566.35" class="lf">0.750</text>
<text x="246.85" y="606.08" class="lf">0.465</text>
<text x="272.08" y="659.00" class="lf">0.036</text>
<text x="297.32" y="613.75" class="lf">0.410</text>
<polyline points="221.62,569.35 246.85,609.08 272.08,668.88 297.32,616.75 322.55,673.90 347.78,673.90" fill="none" stroke="#e8824f" stroke-width="0.9"/>
<rect x="209.00" y="534.50" width="151.40" height="139.40" fill="none" stroke="#1a1a1a" stroke-width="1.5"/>
<line x1="206.00" y1="673.90" x2="209.00" y2="673.90" stroke="#1a1a1a" stroke-width="1.1"/>
<text x="203.70" y="676.70" class="tk">0.0</text>
<line x1="207.50" y1="659.96" x2="209.00" y2="659.96" stroke="#1a1a1a" stroke-width="1.1"/>
<line x1="206.00" y1="646.02" x2="209.00" y2="646.02" stroke="#1a1a1a" stroke-width="1.1"/>
<text x="203.70" y="648.82" class="tk">0.2</text>
<line x1="207.50" y1="632.08" x2="209.00" y2="632.08" stroke="#1a1a1a" stroke-width="1.1"/>
<line x1="206.00" y1="618.14" x2="209.00" y2="618.14" stroke="#1a1a1a" stroke-width="1.1"/>
<text x="203.70" y="620.94" class="tk">0.4</text>
<line x1="207.50" y1="604.20" x2="209.00" y2="604.20" stroke="#1a1a1a" stroke-width="1.1"/>
<line x1="206.00" y1="590.26" x2="209.00" y2="590.26" stroke="#1a1a1a" stroke-width="1.1"/>
<text x="203.70" y="593.06" class="tk">0.6</text>
<line x1="207.50" y1="576.32" x2="209.00" y2="576.32" stroke="#1a1a1a" stroke-width="1.1"/>
<line x1="206.00" y1="562.38" x2="209.00" y2="562.38" stroke="#1a1a1a" stroke-width="1.1"/>
<text x="203.70" y="565.18" class="tk">0.8</text>
<line x1="207.50" y1="548.44" x2="209.00" y2="548.44" stroke="#1a1a1a" stroke-width="1.1"/>
<line x1="206.00" y1="534.50" x2="209.00" y2="534.50" stroke="#1a1a1a" stroke-width="1.1"/>
<text x="203.70" y="537.30" class="tk">1.0</text>
<circle cx="221.62" cy="569.35" r="2.1" fill="#e05c24"/>
<circle cx="246.85" cy="609.08" r="2.1" fill="#e05c24"/>
<circle cx="272.08" cy="668.88" r="2.1" fill="#e05c24"/>
<circle cx="297.32" cy="616.75" r="2.1" fill="#e05c24"/>
<circle cx="322.55" cy="673.90" r="2.1" fill="#e05c24"/>
<circle cx="347.78" cy="673.90" r="2.1" fill="#e05c24"/>
<text x="188.70" y="696.60" class="cap">(k) A-IoU &amp; A-F1-score of Non-glass Fence</text>
<rect x="374.00" y="540.90" width="16.30" height="11.6" fill="#fff"/>
<g clip-path="url(#cl0)">
<line x1="354.80" y1="540.90" x2="366.40" y2="552.50" stroke="#4a5aac" stroke-width="1.15"/>
<line x1="363.40" y1="540.90" x2="375.00" y2="552.50" stroke="#4a5aac" stroke-width="1.15"/>
<line x1="372.00" y1="540.90" x2="383.60" y2="552.50" stroke="#4a5aac" stroke-width="1.15"/>
<line x1="380.60" y1="540.90" x2="392.20" y2="552.50" stroke="#4a5aac" stroke-width="1.15"/>
<line x1="389.20" y1="540.90" x2="400.80" y2="552.50" stroke="#4a5aac" stroke-width="1.15"/>
<line x1="397.80" y1="540.90" x2="409.40" y2="552.50" stroke="#4a5aac" stroke-width="1.15"/>
</g>
<clipPath id="cl0"><rect x="374.00" y="540.90" width="16.30" height="11.6"/></clipPath>
<rect x="390.30" y="540.90" width="17.30" height="11.6" fill="#4a5aac"/>
<rect x="374.00" y="540.90" width="16.30" height="11.6" fill="none" stroke="#9a9a9a" stroke-width="0.7"/>
<rect x="390.30" y="540.90" width="17.30" height="11.6" fill="none" stroke="#2a3470" stroke-width="0.7"/>
<text x="411.3" y="550.10" class="lg">IRFs</text>
<rect x="374.00" y="563.90" width="16.30" height="11.6" fill="#fff"/>
<g clip-path="url(#cl1)">
<line x1="354.80" y1="563.90" x2="366.40" y2="575.50" stroke="#3a9ab8" stroke-width="1.15"/>
<line x1="363.40" y1="563.90" x2="375.00" y2="575.50" stroke="#3a9ab8" stroke-width="1.15"/>
<line x1="372.00" y1="563.90" x2="383.60" y2="575.50" stroke="#3a9ab8" stroke-width="1.15"/>
<line x1="380.60" y1="563.90" x2="392.20" y2="575.50" stroke="#3a9ab8" stroke-width="1.15"/>
<line x1="389.20" y1="563.90" x2="400.80" y2="575.50" stroke="#3a9ab8" stroke-width="1.15"/>
<line x1="397.80" y1="563.90" x2="409.40" y2="575.50" stroke="#3a9ab8" stroke-width="1.15"/>
</g>
<clipPath id="cl1"><rect x="374.00" y="563.90" width="16.30" height="11.6"/></clipPath>
<rect x="390.30" y="563.90" width="17.30" height="11.6" fill="#3a9ab8"/>
<rect x="374.00" y="563.90" width="16.30" height="11.6" fill="none" stroke="#9a9a9a" stroke-width="0.7"/>
<rect x="390.30" y="563.90" width="17.30" height="11.6" fill="none" stroke="#1d5f78" stroke-width="0.7"/>
<text x="411.3" y="573.10" class="lg">CMP</text>
<rect x="374.00" y="588.20" width="16.30" height="11.6" fill="#fff"/>
<g clip-path="url(#cl2)">
<line x1="354.80" y1="588.20" x2="366.40" y2="599.80" stroke="#80cea6" stroke-width="1.15"/>
<line x1="363.40" y1="588.20" x2="375.00" y2="599.80" stroke="#80cea6" stroke-width="1.15"/>
<line x1="372.00" y1="588.20" x2="383.60" y2="599.80" stroke="#80cea6" stroke-width="1.15"/>
<line x1="380.60" y1="588.20" x2="392.20" y2="599.80" stroke="#80cea6" stroke-width="1.15"/>
<line x1="389.20" y1="588.20" x2="400.80" y2="599.80" stroke="#80cea6" stroke-width="1.15"/>
<line x1="397.80" y1="588.20" x2="409.40" y2="599.80" stroke="#80cea6" stroke-width="1.15"/>
</g>
<clipPath id="cl2"><rect x="374.00" y="588.20" width="16.30" height="11.6"/></clipPath>
<rect x="390.30" y="588.20" width="17.30" height="11.6" fill="#80cea6"/>
<rect x="374.00" y="588.20" width="16.30" height="11.6" fill="none" stroke="#9a9a9a" stroke-width="0.7"/>
<rect x="390.30" y="588.20" width="17.30" height="11.6" fill="none" stroke="#4a8a6a" stroke-width="0.7"/>
<text x="411.3" y="597.40" class="lg">ADE20K</text>
<rect x="374.00" y="615.30" width="16.30" height="11.6" fill="#fff"/>
<g clip-path="url(#cl3)">
<line x1="354.80" y1="615.30" x2="366.40" y2="626.90" stroke="#c6e398" stroke-width="1.15"/>
<line x1="363.40" y1="615.30" x2="375.00" y2="626.90" stroke="#c6e398" stroke-width="1.15"/>
<line x1="372.00" y1="615.30" x2="383.60" y2="626.90" stroke="#c6e398" stroke-width="1.15"/>
<line x1="380.60" y1="615.30" x2="392.20" y2="626.90" stroke="#c6e398" stroke-width="1.15"/>
<line x1="389.20" y1="615.30" x2="400.80" y2="626.90" stroke="#c6e398" stroke-width="1.15"/>
<line x1="397.80" y1="615.30" x2="409.40" y2="626.90" stroke="#c6e398" stroke-width="1.15"/>
</g>
<clipPath id="cl3"><rect x="374.00" y="615.30" width="16.30" height="11.6"/></clipPath>
<rect x="390.30" y="615.30" width="17.30" height="11.6" fill="#c6e398"/>
<rect x="374.00" y="615.30" width="16.30" height="11.6" fill="none" stroke="#9a9a9a" stroke-width="0.7"/>
<rect x="390.30" y="615.30" width="17.30" height="11.6" fill="none" stroke="#869e62" stroke-width="0.7"/>
<text x="411.3" y="624.50" class="lg">ECP Paris</text>
<rect x="374.00" y="638.70" width="16.30" height="11.6" fill="#fff"/>
<g clip-path="url(#cl4)">
<line x1="354.80" y1="638.70" x2="366.40" y2="650.30" stroke="#f4f8b0" stroke-width="1.15"/>
<line x1="363.40" y1="638.70" x2="375.00" y2="650.30" stroke="#f4f8b0" stroke-width="1.15"/>
<line x1="372.00" y1="638.70" x2="383.60" y2="650.30" stroke="#f4f8b0" stroke-width="1.15"/>
<line x1="380.60" y1="638.70" x2="392.20" y2="650.30" stroke="#f4f8b0" stroke-width="1.15"/>
<line x1="389.20" y1="638.70" x2="400.80" y2="650.30" stroke="#f4f8b0" stroke-width="1.15"/>
<line x1="397.80" y1="638.70" x2="409.40" y2="650.30" stroke="#f4f8b0" stroke-width="1.15"/>
</g>
<clipPath id="cl4"><rect x="374.00" y="638.70" width="16.30" height="11.6"/></clipPath>
<rect x="390.30" y="638.70" width="17.30" height="11.6" fill="#f4f8b0"/>
<rect x="374.00" y="638.70" width="16.30" height="11.6" fill="none" stroke="#9a9a9a" stroke-width="0.7"/>
<rect x="390.30" y="638.70" width="17.30" height="11.6" fill="none" stroke="#a8a87a" stroke-width="0.7"/>
<text x="411.3" y="647.90" class="lg">eTRIMS</text>
<rect x="374.00" y="662.50" width="16.30" height="11.6" fill="#fff"/>
<g clip-path="url(#cl5)">
<line x1="354.80" y1="662.50" x2="366.40" y2="674.10" stroke="#fbe297" stroke-width="1.15"/>
<line x1="363.40" y1="662.50" x2="375.00" y2="674.10" stroke="#fbe297" stroke-width="1.15"/>
<line x1="372.00" y1="662.50" x2="383.60" y2="674.10" stroke="#fbe297" stroke-width="1.15"/>
<line x1="380.60" y1="662.50" x2="392.20" y2="674.10" stroke="#fbe297" stroke-width="1.15"/>
<line x1="389.20" y1="662.50" x2="400.80" y2="674.10" stroke="#fbe297" stroke-width="1.15"/>
<line x1="397.80" y1="662.50" x2="409.40" y2="674.10" stroke="#fbe297" stroke-width="1.15"/>
</g>
<clipPath id="cl5"><rect x="374.00" y="662.50" width="16.30" height="11.6"/></clipPath>
<rect x="390.30" y="662.50" width="17.30" height="11.6" fill="#fbe297"/>
<rect x="374.00" y="662.50" width="16.30" height="11.6" fill="none" stroke="#9a9a9a" stroke-width="0.7"/>
<rect x="390.30" y="662.50" width="17.30" height="11.6" fill="none" stroke="#b8a060" stroke-width="0.7"/>
<text x="411.3" y="671.70" class="lg">Graz50</text>
<text x="467.2" y="550.5" class="lgb">Columns:</text>
<clipPath id="clw"><rect x="466.6" y="564.4" width="19.6" height="10.1"/></clipPath>
<rect x="466.6" y="564.4" width="19.6" height="10.1" fill="#fff"/>
<g clip-path="url(#clw)"><line x1="454.60" y1="564.4" x2="464.70" y2="574.5" stroke="#666" stroke-width="0.65"/><line x1="460.60" y1="564.4" x2="470.70" y2="574.5" stroke="#666" stroke-width="0.65"/><line x1="466.60" y1="564.4" x2="476.70" y2="574.5" stroke="#666" stroke-width="0.65"/><line x1="472.60" y1="564.4" x2="482.70" y2="574.5" stroke="#666" stroke-width="0.65"/><line x1="478.60" y1="564.4" x2="488.70" y2="574.5" stroke="#666" stroke-width="0.65"/><line x1="484.60" y1="564.4" x2="494.70" y2="574.5" stroke="#666" stroke-width="0.65"/></g>
<rect x="466.6" y="564.4" width="19.6" height="10.1" fill="none" stroke="#777" stroke-width="0.7"/>
<text x="493.6" y="573.9" class="lg">A-WMIoU</text>
<rect x="466.6" y="589.7" width="19.8" height="10.6" fill="#dcdcdc" stroke="#9a9a9a" stroke-width="0.8"/>
<text x="492.8" y="597.6" class="lg">A- IoU</text>
<text x="466.9" y="623.1" class="lgb">Lines:</text>
<line x1="470.2" y1="644.4" x2="486.6" y2="644.4" stroke="#b3124e" stroke-width="0.9"/>
<rect x="475.9" y="641.9" width="5" height="5" fill="#b3124e"/>
<text x="492.7" y="646.9" class="lg" style="fill:#b3124e;stroke:#b3124e">A-accuracy</text>
<line x1="471.4" y1="668.8" x2="487.4" y2="668.8" stroke="#e8824f" stroke-width="1"/>
<circle cx="478.9" cy="668.8" r="2.4" fill="#e05c24"/>
<text x="492.7" y="672.5" class="lg" style="fill:#e8734a;stroke:#e8734a">A-F1-score</text>
</svg></body></html>
